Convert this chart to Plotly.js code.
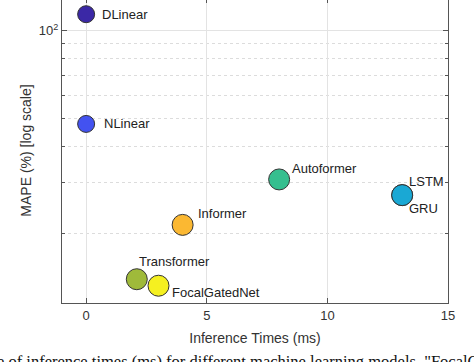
<!DOCTYPE html>
<html>
<head>
<meta charset="utf-8">
<script src="https://cdn.plot.ly/plotly-3.0.1.min.js"></script>
<style>
html,body{margin:0;padding:0;background:#fff;overflow:hidden;width:474px;height:362px;position:relative;}
#chart{position:absolute;left:0;top:-2px;width:474px;height:364px;}
#caption{position:absolute;left:-3px;top:354px;white-space:nowrap;font-family:'Liberation Serif','Times New Roman',serif;font-size:16.5px;line-height:16.5px;color:#111;}
</style>
</head>
<body>
<div id="chart"></div>
<div id="caption"></div>
<script>
// ---- data ----
const models = ['DLinear','NLinear','Autoformer','LSTM','GRU','Informer','Transformer','FocalGatedNet'];
const inferenceMs = [0, 0, 8.0, 13.1, 13.1, 4.0, 2.1, 3.0];
const mape = [114, 47.7, 30.7, 27.1, 27.1, 21.4, 13.9, 13.2];
const xTicks = [0, 5, 10, 15];
const yTickVals = [100];
const yTickText = ['10<sup>2</sup>'];
const yMinor = [20, 30, 40, 50, 60, 70, 80, 90];
const caption = 'e of inference times (ms) for different machine learning models. "FocalGatedNet"';

// ---- styles ----
const colors = ['#3b28a6','#4352f0','#35bf8f','#1bb0d8','#1aa8d4','#fbb832','#9fba3a','#f5f020'];
const sizes = [17, 17, 21, 21, 21, 21, 21, 21];
const labelShift = [[14,0],[16,0],[11,11],[5,14],[5,-13],[13,11],[0,18],[11,-7]];

const font = 'Liberation Sans, Arial, sans-serif';
const axisColor = '#555555';

document.getElementById('caption').textContent = caption;

const traces = models.map((m, i) => ({
  type: 'scatter', mode: 'markers', name: m,
  x: [inferenceMs[i]], y: [mape[i]],
  marker: {size: sizes[i], color: colors[i], line: {color: '#333333', width: 1}},
  showlegend: false, cliponaxis: false
}));

const annotations = models.map((m, i) => ({
  x: inferenceMs[i], y: Math.log10(mape[i]), xref: 'x', yref: 'y',
  text: m, showarrow: false, xanchor: 'left', yanchor: 'middle',
  xshift: labelShift[i][0], yshift: labelShift[i][1],
  font: {family: font, size: 13, color: '#222222'}
}));

const layout = {
  width: 474, height: 364,
  margin: {l: 62, r: 26, t: 0, b: 59},
  paper_bgcolor: 'rgba(0,0,0,0)', plot_bgcolor: '#ffffff',
  font: {family: font, size: 13, color: '#333333'},
  xaxis: {
    range: [-1, 15], tickvals: xTicks, ticks: 'inside', ticklen: 5, tickcolor: axisColor,
    showline: true, linecolor: axisColor, linewidth: 1, mirror: 'ticks',
    showgrid: true, gridcolor: '#e3e3e3', zeroline: false,
    tickfont: {family: font, size: 13, color: '#333333'},
    title: {text: 'Inference Times (ms)', font: {family: font, size: 14, color: '#333333'}, standoff: 11}
  },
  yaxis: {
    type: 'log', range: [1.061, 2.1128], tickvals: yTickVals, ticktext: yTickText,
    ticks: 'inside', ticklen: 5, tickcolor: axisColor,
    showline: true, linecolor: axisColor, linewidth: 1, mirror: 'ticks',
    showgrid: true, gridcolor: '#e3e3e3', zeroline: false,
    minor: {tickvals: yMinor, ticks: 'inside', ticklen: 3, tickcolor: axisColor,
            showgrid: true, gridcolor: '#dcdcdc', griddash: 'dot'},
    tickfont: {family: font, size: 13, color: '#333333'},
    title: {text: 'MAPE (%) [log scale]', font: {family: font, size: 14, color: '#333333'}, standoff: 3}
  },
  annotations: annotations
};

Plotly.newPlot('chart', traces, layout, {displayModeBar: false, staticPlot: true});
</script>
</body>
</html>
